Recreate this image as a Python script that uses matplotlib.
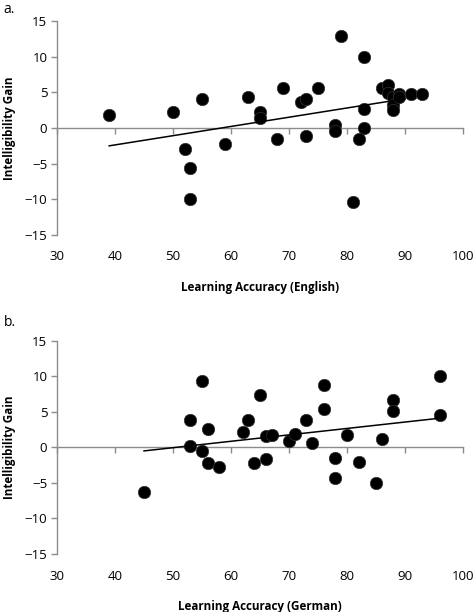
import matplotlib
matplotlib.use('Agg')
import matplotlib.pyplot as plt
import numpy as np

plt.rcParams['font.family'] = ['Open Sans', 'DejaVu Sans']

# --- Data ---
# a. English
eng_acc = [39, 50, 55, 52, 53, 53, 59, 63, 65, 65, 68, 69, 72, 73, 73, 75,
           78, 78, 79, 83, 83, 83, 82, 81, 86, 87, 87, 88, 88, 88, 89, 89, 91, 93]
eng_gain = [1.8, 2.2, 4.1, -3.0, -5.6, -10.0, -2.2, 4.4, 2.2, 1.45, -1.5, 5.6, 3.7, 4.1, -1.1, 5.6,
            0.4, -0.4, 12.9, 10.0, 2.6, 0.0, -1.5, -10.4, 5.6, 6.0, 4.9, 4.4, 3.2, 2.5, 4.8, 4.4, 4.8, 4.8]
eng_trend_x = [39, 90]
eng_trend_y = [-2.5, 4.1]

# b. German
ger_acc = [45, 53, 53, 55, 55, 56, 56, 58, 62, 63, 64, 65, 66, 66, 67, 70, 71, 73,
           74, 76, 76, 78, 78, 80, 82, 85, 86, 88, 88, 96, 96]
ger_gain = [-6.3, 3.8, 0.15, 9.3, -0.5, 2.6, -2.2, -2.8, 2.1, 3.9, -2.2, 7.3, 1.55, -1.6, 1.7, 0.95, 1.9, 3.9,
            0.55, 8.8, 5.4, -1.45, -4.3, 1.7, -2.1, -5.0, 1.2, 6.7, 5.1, 10.1, 4.6]
ger_trend_x = [45, 96]
ger_trend_y = [-0.5, 4.1]

panels = [
    ('a.', eng_acc, eng_gain, eng_trend_x, eng_trend_y, 'Learning Accuracy (English)'),
    ('b.', ger_acc, ger_gain, ger_trend_x, ger_trend_y, 'Learning Accuracy (German)'),
]

axis_gray = '#8c8c8c'

fig = plt.figure(figsize=(4.74, 6.12), dpi=100)
positions = [[0.1203, 0.616, 0.8565, 0.3497], [0.1203, 0.0948, 0.8565, 0.3485]]
label_y = [0.985, 0.473]

for pos, ly, (tag, xs, ys, tx, ty, xlab) in zip(positions, label_y, panels):
    ax = fig.add_axes(pos)
    ax.set_xlim(30, 100)
    ax.set_ylim(-15, 15)
    ax.set_xticks(np.arange(30, 101, 10))
    ax.set_yticks(np.arange(-15, 16, 5))

    for s in ['top', 'right']:
        ax.spines[s].set_visible(False)
    ax.spines['left'].set_color(axis_gray)
    ax.spines['left'].set_linewidth(1.0)
    # horizontal axis crosses at zero (Excel style), labels stay at the bottom
    ax.spines['bottom'].set_position(('data', 0))
    ax.spines['bottom'].set_color(axis_gray)
    ax.spines['bottom'].set_linewidth(1.0)

    ax.tick_params(axis='y', direction='out', length=4, width=1.0, color=axis_gray,
                   labelsize=9.5, pad=3)
    ax.tick_params(axis='x', direction='out', length=4, width=1.0, color=axis_gray,
                   labelsize=9.5, pad=84)

    ax.scatter(xs, ys, s=80, color='black', edgecolors='#333333', linewidths=0.5, zorder=3)
    ax.plot(tx, ty, color='black', linewidth=1.1, zorder=4)

    ax.set_xlabel(xlab, fontsize=8.4, fontweight='bold')
    ax.xaxis.set_label_coords(0.5, -0.215)
    ax.set_ylabel('Intelligibility Gain', fontsize=8.4, fontweight='bold')
    ax.yaxis.set_label_coords(-0.1, 0.5)

    fig.text(0.008, ly, tag, fontsize=10, ha='left', va='center')

fig.savefig('out.png', dpi=100)
